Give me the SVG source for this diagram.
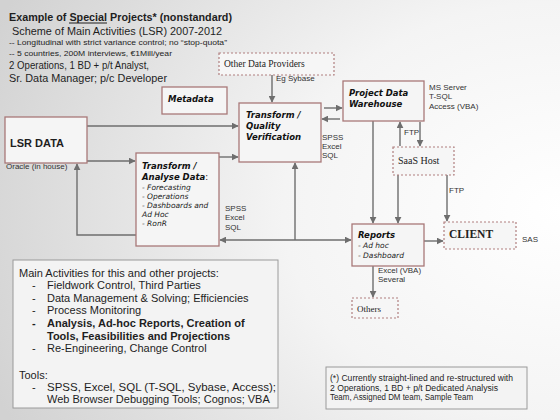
<svg xmlns="http://www.w3.org/2000/svg" width="560" height="420" viewBox="0 0 560 420">
<defs>
<radialGradient id="bg" cx="1" cy="0.5" r="1.1">
<stop offset="0" stop-color="#ffffff"/>
<stop offset="0.45" stop-color="#f4f4f4"/>
<stop offset="1" stop-color="#d2d2d2"/>
</radialGradient>
<marker id="ah" viewBox="0 0 10 10" refX="9" refY="5" markerWidth="7" markerHeight="7" orient="auto-start-reverse" markerUnits="userSpaceOnUse">
<path d="M0,0 L10,5 L0,10 z" fill="#6e6e6e"/>
</marker>
</defs>
<style>
.box{fill:#f5f5f5;stroke:#a87878;stroke-width:1.3}
.dbox{fill:#f6f6f6;stroke:#b07f7f;stroke-width:1.2;stroke-dasharray:2,2}
.gbox{fill:#f3f3f3;stroke:#9a9a9a;stroke-width:1}
.c{fill:none;stroke:#6e6e6e;stroke-width:1.4}
.ar{marker-end:url(#ah)}
.t{font-family:"Liberation Sans",Arial,sans-serif;fill:#1e1e1e}
.s{font-family:"Liberation Sans",Arial,sans-serif;font-size:8px;fill:#333}
.cm{font-family:"DejaVu Sans",sans-serif;font-style:italic;font-weight:bold;font-size:8.5px;fill:#111}
.ci{font-family:"DejaVu Sans",sans-serif;font-style:italic;font-size:7.5px;fill:#222}
.sf{font-family:"Liberation Serif","Times New Roman",serif;fill:#222}
</style>
<rect x="0" y="0" width="560" height="420" fill="url(#bg)"/>

<g id="title">
<text class="t" x="9" y="21" font-size="11.5" font-weight="bold" textLength="223" lengthAdjust="spacingAndGlyphs">Example of Special Projects* (nonstandard)</text>
<line x1="69" y1="23" x2="107" y2="23" stroke="#1e1e1e" stroke-width="1"/>
<text class="t" x="12" y="35" font-size="11.5" textLength="210" lengthAdjust="spacingAndGlyphs">Scheme of Main Activities (LSR) 2007-2012</text>
<text class="t" x="9" y="45" font-size="7.5" textLength="218" lengthAdjust="spacingAndGlyphs">-- Longitudinal with strict variance control; no “stop-quota”</text>
<text class="t" x="9" y="56" font-size="7.5" textLength="163" lengthAdjust="spacingAndGlyphs">-- 5 countries, 200M interviews, €1Mill/year</text>
<text class="t" x="9" y="69" font-size="11.5" textLength="140" lengthAdjust="spacingAndGlyphs">2 Operations, 1 BD + p/t Analyst,</text>
<text class="t" x="9" y="82" font-size="11.5" textLength="158" lengthAdjust="spacingAndGlyphs">Sr. Data Manager; p/c Developer</text>
</g>

<g id="connectors">
<line class="c ar" x1="272" y1="75" x2="272" y2="102"/>
<line class="c ar" x1="87" y1="126" x2="238" y2="126"/>
<line class="c ar" x1="87" y1="161" x2="135" y2="161"/>
<line class="c ar" x1="219" y1="157" x2="238" y2="157"/>
<polyline class="c ar" points="136,235 77,235 77,164"/>
<line class="c ar" x1="324" y1="108" x2="342" y2="108"/>
<line class="c ar" x1="340" y1="119" x2="322" y2="119"/>
<line class="c ar" x1="400" y1="146" x2="400" y2="122"/>
<line class="c ar" x1="420" y1="122" x2="420" y2="146"/>
<line class="c ar" x1="373" y1="121" x2="373" y2="223"/>
<line class="c ar" x1="398" y1="175" x2="398" y2="223"/>
<line class="c ar" x1="447" y1="175" x2="447" y2="221"/>
<line class="c ar" x1="424" y1="241" x2="443" y2="241"/>
<line class="c ar" x1="373" y1="266" x2="373" y2="297"/>
<line class="c ar" x1="295" y1="240" x2="220" y2="240"/>
<line class="c ar" x1="295" y1="240" x2="351" y2="240"/>
<line class="c ar" x1="295" y1="240" x2="295" y2="163"/>
</g>

<g id="other-data-providers">
<rect class="dbox" x="219" y="53" width="115" height="22"/>
<text class="sf" x="224" y="67" font-size="9.5">Other Data Providers</text>
<text class="s" x="276" y="81">Eg Sybase</text>
</g>

<g id="metadata">
<rect class="box" x="162" y="87" width="65" height="27"/>
<text class="cm" x="168" y="102" font-size="9">Metadata</text>
</g>

<g id="transform-quality">
<rect class="box" x="239" y="103" width="82" height="59"/>
<text class="cm" x="246" y="118">Transform /</text>
<text class="cm" x="246" y="129">Quality</text>
<text class="cm" x="246" y="140">Verification</text>
<text class="s" x="322" y="140">SPSS</text>
<text class="s" x="322" y="149">Excel</text>
<text class="s" x="322" y="158">SQL</text>
</g>

<g id="project-data-warehouse">
<rect class="box" x="343" y="81" width="81" height="40"/>
<text class="cm" x="349" y="96">Project Data</text>
<text class="cm" x="349" y="107">Warehouse</text>
<text class="s" x="429" y="90">MS Server</text>
<text class="s" x="429" y="99">T-SQL</text>
<text class="s" x="429" y="109">Access (VBA)</text>
<text class="s" x="404" y="135">FTP</text>
</g>

<g id="saas-host">
<rect class="dbox" x="393" y="147" width="61" height="28"/>
<text class="sf" x="398" y="164" font-size="10">SaaS Host</text>
<text class="s" x="449" y="193">FTP</text>
</g>

<g id="lsr-data">
<rect class="box" x="5" y="117" width="82" height="46"/>
<text class="t" x="10" y="147" font-size="11" font-weight="bold">LSR DATA</text>
<text class="s" x="6" y="169">Oracle (in house)</text>
</g>

<g id="transform-analyse">
<rect class="box" x="136" y="153" width="83" height="93"/>
<text class="cm" x="142" y="169">Transform /</text>
<text class="cm" x="142" y="180">Analyse Data<tspan font-weight="normal" font-style="normal">:</tspan></text>
<text class="ci" x="142" y="190">- Forecasting</text>
<text class="ci" x="142" y="199">- Operations</text>
<text class="ci" x="142" y="208">- Dashboards and</text>
<text class="ci" x="142" y="217">Ad Hoc</text>
<text class="ci" x="142" y="226">- RonR</text>
<text class="s" x="225" y="211">SPSS</text>
<text class="s" x="225" y="220">Excel</text>
<text class="s" x="225" y="230">SQL</text>
</g>

<g id="reports">
<rect class="box" x="352" y="224" width="72" height="42"/>
<text class="cm" x="358" y="238">Reports</text>
<text class="ci" x="358" y="248">- Ad hoc</text>
<text class="ci" x="358" y="258">- Dashboard</text>
<text class="s" x="378" y="273">Excel (VBA)</text>
<text class="s" x="378" y="282">Several</text>
</g>

<g id="client">
<rect class="dbox" x="444" y="222" width="72" height="27"/>
<text class="sf" x="449" y="238" font-size="11.5" font-weight="bold">CLIENT</text>
<text class="s" x="522" y="242">SAS</text>
</g>

<g id="others">
<rect class="dbox" x="352" y="298" width="46" height="20"/>
<text class="sf" x="357" y="312" font-size="9">Others</text>
</g>

<g id="activities">
<rect class="gbox" x="13" y="260" width="265" height="148"/>
<g class="t" font-size="11">
<text x="19" y="277">Main Activities for this and other projects:</text>
<text x="32" y="289">-</text><text x="47" y="289">Fieldwork Control, Third Parties</text>
<text x="32" y="302">-</text><text x="47" y="302">Data Management &amp; Solving; Efficiencies</text>
<text x="32" y="314">-</text><text x="47" y="314">Process Monitoring</text>
<text x="32" y="327" font-weight="bold">-</text><text x="47" y="327" font-weight="bold">Analysis, Ad-hoc Reports, Creation of</text>
<text x="47" y="340" font-weight="bold">Tools, Feasibilities and Projections</text>
<text x="32" y="352">-</text><text x="47" y="352">Re-Engineering, Change Control</text>
<text x="19" y="379">Tools:</text>
<text x="32" y="391">-</text><text x="47" y="391" textLength="229" lengthAdjust="spacingAndGlyphs">SPSS, Excel, SQL (T-SQL, Sybase, Access);</text>
<text x="47" y="403">Web Browser Debugging Tools; Cognos; VBA</text>
</g>
</g>

<g id="footnote">
<rect class="gbox" x="326" y="367" width="201" height="42"/>
<g class="t" font-size="8.5">
<text x="330" y="381" textLength="183" lengthAdjust="spacingAndGlyphs">(*) Currently straight-lined and re-structured with</text>
<text x="330" y="391" textLength="168" lengthAdjust="spacingAndGlyphs">2 Operations, 1 BD + p/t Dedicated Analysis</text>
<text x="330" y="400" textLength="143" lengthAdjust="spacingAndGlyphs">Team, Assigned DM team, Sample Team</text>
</g>
</g>
</svg>
